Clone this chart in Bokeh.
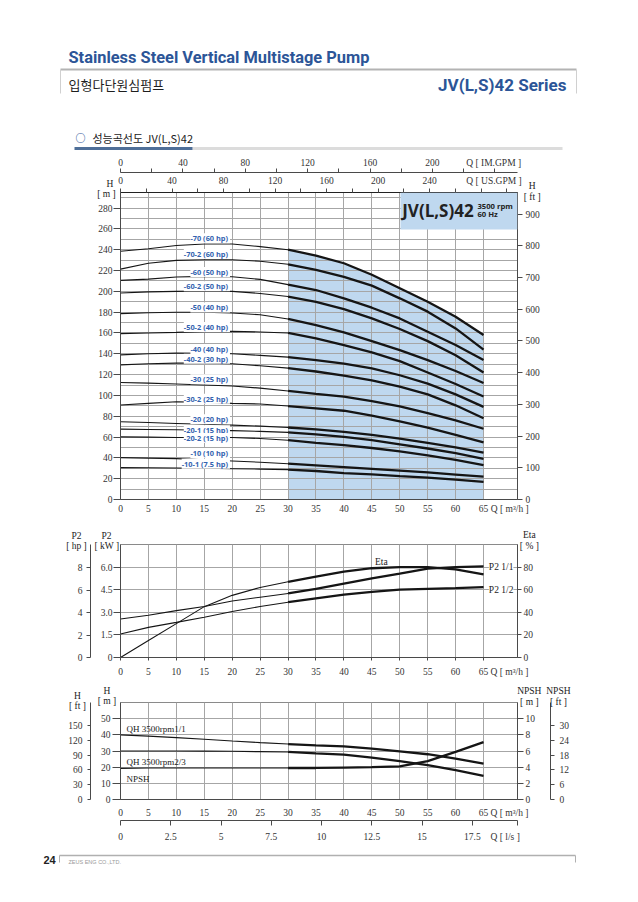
from bokeh.plotting import figure
from bokeh.models import (Range1d, LinearAxis, FixedTicker, Label, LabelSet,
                          ColumnDataSource, BoxAnnotation, CustomJSTickFormatter)
from bokeh.layouts import column
from bokeh.embed import file_html
from bokeh.resources import INLINE
from bokeh.core.properties import value

# ---------------- data ----------------
Q = [0, 5, 10, 15, 20, 25, 30, 35, 40, 45, 50, 55, 60, 65]

models = ["-70", "-70-2", "-60", "-60-2", "-50", "-50-2", "-40", "-40-2",
          "-30", "-30-2", "-20", "-20-1", "-20-2", "-10", "-10-1"]
motor_hp = ["60 hp", "60 hp", "50 hp", "50 hp", "40 hp", "40 hp", "40 hp", "30 hp",
            "25 hp", "25 hp", "20 hp", "15 hp", "15 hp", "10 hp", "7.5 hp"]

H_70   = [238.5, 241.0, 244.0, 245.5, 245.5, 243.0, 240.0, 234.4, 227.0, 216.0, 203.0, 190.0, 175.6, 158.0]
H_70_2 = [221.4, 227.0, 229.8, 230.4, 230.4, 229.0, 226.0, 220.6, 214.0, 205.5, 193.3, 180.5, 164.4, 144.0]
H_60   = [210.6, 211.8, 213.8, 214.4, 214.0, 211.5, 206.5, 201.3, 193.3, 184.3, 174.0, 161.2, 148.4, 134.0]
H_60_2 = [198.4, 199.5, 200.0, 200.3, 200.0, 198.0, 195.0, 190.0, 183.0, 174.0, 163.8, 152.2, 138.7, 122.0]
H_50   = [178.6, 179.5, 180.0, 180.0, 179.2, 177.5, 173.5, 167.6, 160.6, 152.2, 143.5, 133.9, 123.5, 112.0]
H_50_2 = [159.4, 160.0, 160.6, 161.3, 161.6, 161.0, 160.0, 154.8, 148.4, 141.3, 133.0, 122.0, 111.0, 99.0]
H_40   = [139.0, 140.0, 140.7, 140.5, 140.0, 138.5, 136.8, 133.9, 130.6, 125.9, 119.4, 111.4, 101.0, 89.0]
H_40_2 = [129.4, 130.5, 131.0, 131.0, 130.4, 128.5, 126.2, 123.0, 119.0, 114.5, 108.5, 101.0, 90.5, 78.0]
H_30   = [112.4, 111.8, 111.0, 110.0, 109.1, 107.0, 104.3, 101.4, 98.8, 94.5, 89.5, 83.0, 76.0, 68.0]
H_30_2 = [90.8, 92.4, 94.0, 93.4, 92.4, 91.8, 89.8, 87.6, 85.3, 80.5, 75.0, 69.0, 62.0, 55.0]
H_20   = [74.7, 74.0, 73.1, 72.3, 71.5, 70.5, 69.2, 67.3, 65.0, 62.0, 58.5, 54.5, 50.0, 45.0]
H_20_1 = [67.6, 67.3, 67.0, 66.6, 66.2, 65.5, 64.5, 62.5, 60.2, 57.0, 53.0, 49.0, 44.5, 39.0]
H_20_2 = [60.2, 59.9, 59.6, 59.6, 59.6, 58.6, 57.0, 54.4, 52.2, 49.5, 46.3, 42.5, 38.0, 33.0]
H_10   = [40.2, 39.8, 39.3, 38.2, 37.0, 35.8, 34.4, 32.8, 31.2, 29.5, 27.8, 26.0, 24.0, 22.0]
H_10_1 = [30.6, 30.5, 30.3, 30.0, 29.6, 29.2, 28.7, 27.4, 25.4, 24.2, 22.5, 21.0, 19.0, 17.0]
H_curves = [H_70, H_70_2, H_60, H_60_2, H_50, H_50_2, H_40, H_40_2,
            H_30, H_30_2, H_20, H_20_1, H_20_2, H_10, H_10_1]

# power / efficiency chart
P2_full_kW = [2.56, 2.80, 3.11, 3.38, 3.75, 4.00, 4.25, 4.55, 4.90, 5.25, 5.57, 5.90, 6.00, 6.05]
P2_half_kW = [1.56, 2.00, 2.33, 2.67, 3.05, 3.38, 3.67, 3.93, 4.18, 4.35, 4.50, 4.55, 4.60, 4.67]
Eta_pct    = [0.0, 15.0, 30.0, 45.0, 55.0, 62.0, 67.0, 71.5, 76.0, 79.0, 80.0, 80.0, 78.0, 73.5]

# single stage chart
QH_full = [40.0, 39.2, 38.3, 37.3, 36.2, 35.2, 34.3, 33.5, 32.8, 31.5, 29.8, 28.0, 25.3, 22.2]
QH_23   = [30.0, 30.0, 30.0, 29.9, 29.8, 29.6, 29.4, 28.5, 27.8, 25.9, 23.7, 21.2, 18.1, 14.6]
NPSH_m  = [3.85, 3.9, 3.9, 3.9, 3.9, 3.9, 3.9, 3.9, 3.95, 4.0, 4.1, 4.75, 5.9, 7.1]

Q_ticks = [0, 5, 10, 15, 20, 25, 30, 35, 40, 45, 50, 55, 60, 65]
H_ticks = [0, 20, 40, 60, 80, 100, 120, 140, 160, 180, 200, 220, 240, 260, 280]
ft_ticks = [0, 100, 200, 300, 400, 500, 600, 700, 800, 900]
usgpm_ticks = [0, 40, 80, 120, 160, 200, 240]
usgpm_all = [0, 20, 40, 60, 80, 100, 120, 140, 160, 180, 200, 220, 240, 260, 280, 300]
imgpm_ticks = [0, 40, 80, 120, 160, 200]
imgpm_all = [0, 20, 40, 60, 80, 100, 120, 140, 160, 180, 200, 220, 240]
kW_ticks = [0, 1.5, 3.0, 4.5, 6.0]
hp_ticks = [0, 2, 4, 6, 8]
eta_ticks = [0, 20, 40, 60, 80]
Hs_ticks = [0, 10, 20, 30, 40, 50]
Hs_ft_ticks = [0, 30, 60, 90, 120, 150]
npsh_ticks = [0, 2, 4, 6, 8, 10]
npsh_ft_ticks = [0, 6, 12, 18, 24, 30]
ls_ticks = [0, 2.5, 5, 7.5, 10, 12.5, 15, 17.5]

# ---------------- style ----------------
SERIF = "Liberation Serif"
TFS = "9.5px"
GRID = "#a6a6a6"
AXIS = "#4a4a4a"
CURVE = "#151515"
BLUE_FILL = "#bfd8ef"
TITLE_BLUE = "#2c5597"
LABEL_BLUE = "#3363b0"
Q_END = 71.08
THIN, THICK = 1.1, 2.3


def style_axis(ax, tick_out=0, standoff=3, minor_out=0):
    ax.major_label_text_font = SERIF
    ax.major_label_text_font_size = TFS
    ax.major_label_text_color = "#333333"
    ax.major_tick_out = tick_out
    ax.major_tick_in = 0
    ax.minor_tick_out = minor_out
    ax.minor_tick_in = 0
    ax.major_tick_line_color = AXIS
    ax.minor_tick_line_color = AXIS
    ax.axis_line_color = AXIS
    ax.major_label_standoff = standoff


def pad(ax, px):
    ax.axis_label = " "
    ax.axis_label_text_font_size = "1px"
    ax.axis_label_standoff = px


def lbl(p, x, y, text, size=TFS, font=SERIF, align="left", color="#222222",
        style="normal", bg=None):
    l = Label(x=x, y=y, text=text, text_font=font, text_font_size=size,
              text_align=align, text_baseline="middle", text_color=color,
              text_font_style=style)
    if bg is not None:
        l.background_fill_color = bg
    p.add_layout(l)


def gtxt(p, x, y, text, size=TFS, font=SERIF, align="left", color="#222222",
         style="normal"):
    # text glyph on the overlay level: not clipped to the plot frame
    p.text(x=[x], y=[y], text=[text], text_font=value(font), text_font_size=value(size),
           text_align=align, text_baseline="middle", text_color=color,
           text_font_style=style, level="overlay")


def make_chart(height, top_b, bottom_b, y_end):
    p = figure(width=638, height=height, x_range=Range1d(0, Q_END),
               y_range=Range1d(0, y_end), output_backend="svg",
               toolbar_location=None, min_border_left=120, min_border_right=121,
               min_border_top=top_b, min_border_bottom=bottom_b)
    p.outline_line_color = "#8a8a8a"
    p.xgrid.grid_line_color = GRID
    p.ygrid.grid_line_color = GRID
    p.xgrid.ticker = FixedTicker(ticks=Q_ticks)
    return p


def q_axis(p, label_at, minor_out, standoff):
    ax = p.xaxis[0]
    ax.ticker = FixedTicker(ticks=Q_ticks + [label_at], minor_ticks=Q_ticks)
    ax.formatter = CustomJSTickFormatter(
        code="return tick > 66 ? 'Q [ m\u00b3/h ]' : String(tick);")
    style_axis(ax, tick_out=0, standoff=standoff, minor_out=minor_out)
    return ax


def split_line(p, xs, ys, **kw):
    a = [(x, y) for x, y in zip(xs, ys) if x <= 30]
    b = [(x, y) for x, y in zip(xs, ys) if x >= 30]
    p.line([t[0] for t in a], [t[1] for t in a], line_width=THIN, line_color=CURVE, **kw)
    p.line([t[0] for t in b], [t[1] for t in b], line_width=THICK, line_color=CURVE, **kw)


def page_fig(height, y_top, y_bottom):
    f = figure(width=638, height=height, x_range=Range1d(120, 517),
               y_range=Range1d(y_bottom, y_top), x_axis_type=None, y_axis_type=None,
               output_backend="svg", toolbar_location=None,
               min_border_left=120, min_border_right=121, min_border_top=0,
               min_border_bottom=0)
    f.outline_line_color = None
    f.xgrid.visible = False
    f.ygrid.visible = False
    return f


# ---------------- header ----------------
hdr = page_fig(150, 0, 150)
gtxt(hdr, 68, 57, "Stainless Steel Vertical Multistage Pump",
     size="16.4px", font="Roboto", style="bold", color=TITLE_BLUE)
hdr.segment(x0=[60], y0=[69], x1=[576], y1=[69], line_color="#b3b3b3", line_width=2, level="overlay")
hdr.segment(x0=[60, 576], y0=[69, 69], x1=[60, 576], y1=[93, 93], line_color="#d0d0d0",
            line_width=1, level="overlay")
gtxt(hdr, 68, 84, "입형다단원심펌프", size="13px", font="Noto Sans CJK KR", color="#1e1e1e")
gtxt(hdr, 566, 84, "JV(L,S)42 Series", size="17px", font="Roboto", style="bold",
     color=TITLE_BLUE, align="right")
gtxt(hdr, 80, 137, "○", size="10px", font="Noto Sans CJK KR", style="bold",
     color=TITLE_BLUE, align="center")
gtxt(hdr, 92, 137, "성능곡선도 JV(L,S)42", size="11px", font="Noto Sans CJK KR")
hdr.segment(x0=[192], y0=[148], x1=[562], y1=[148], line_color="#dcdcdc", line_width=3, level="overlay")
hdr.segment(x0=[74], y0=[148], x1=[192], y1=[148], line_color="#4f6f98", line_width=3, level="overlay")

# ---------------- top chart: H-Q curves ----------------
top = make_chart(370, 42, 21, 295)
q_axis(top, 69.7, 0, 4)
yt = FixedTicker(ticks=H_ticks, minor_ticks=[h + 10 for h in H_ticks])
top.yaxis.ticker = yt
top.ygrid.ticker = yt
top.ygrid.minor_grid_line_color = GRID
style_axis(top.yaxis[0], tick_out=7, standoff=1)

top.extra_y_ranges = {"ft": Range1d(0, 295 * 3.28084)}
ax_ft = LinearAxis(y_range_name="ft", ticker=FixedTicker(ticks=ft_ticks))
style_axis(ax_ft, tick_out=5, standoff=3)
top.add_layout(ax_ft, "right")

top.extra_x_ranges = {"us": Range1d(0, 308.3), "im": Range1d(0, 254.5)}
ax_us = LinearAxis(x_range_name="us",
                   ticker=FixedTicker(ticks=usgpm_ticks + [291], minor_ticks=usgpm_all),
                   formatter=CustomJSTickFormatter(
                       code="return tick > 250 ? 'Q  [ US.GPM ]' : String(tick);"))
style_axis(ax_us, tick_out=0, standoff=3, minor_out=4)
ax_us.axis_line_color = "#222222"
top.add_layout(ax_us, "above")
ax_im = LinearAxis(x_range_name="im",
                   ticker=FixedTicker(ticks=imgpm_ticks + [240], minor_ticks=imgpm_all),
                   formatter=CustomJSTickFormatter(
                       code="return tick > 220 ? 'Q  [ IM.GPM ]' : String(tick);"))
style_axis(ax_im, tick_out=0, standoff=1, minor_out=4)
top.add_layout(ax_im, "above")

qa = [q for q in Q if q >= 30]
ha = [h for q, h in zip(Q, H_70) if q >= 30]
top.varea(x=qa, y1=0, y2=ha, fill_color=BLUE_FILL, level="image")

for h in H_curves:
    split_line(top, Q, h)

label_dy = [5.5, 5.4, 4.2, 4.5, 4.6, 4.5, 4.1, 4.2, 5.6, 3.5, 4.7, 0.0, -0.4, 6.4, 4.4]
lab_src = ColumnDataSource(dict(
    x=[19.6 for _ in models],
    y=[h[3] + d for h, d in zip(H_curves, label_dy)],
    text=[f"{m}  ({hp})" for m, hp in zip(models, motor_hp)]))
top.add_layout(LabelSet(x="x", y="y", text="text", source=lab_src,
                        text_font=value("Open Sans"), text_font_size="7.4px",
                        text_font_style="bold", text_color=LABEL_BLUE,
                        text_align="right", text_baseline="middle",
                        background_fill_color="white"))

top.add_layout(BoxAnnotation(left=50.13, bottom=259.4, fill_color=BLUE_FILL,
                             fill_alpha=1.0, line_alpha=0))
lbl(top, 50.44, 277.7, "JV(L,S)42", size="17px", font="Open Sans", style="bold")
lbl(top, 63.9, 282.5, "3500 rpm", size="7.7px", font="Open Sans", style="bold")
lbl(top, 63.9, 273.9, "60 Hz", size="7.7px", font="Open Sans", style="bold")

gtxt(top, -1.88, 303.6, "H", align="center")
gtxt(top, -2.5, 294.0, "[ m ]", align="center")
gtxt(top, 73.7, 301.0, "H", align="center")
gtxt(top, 73.7, 290.5, "[ ft ]", align="center")

# ---------------- middle chart: P2 / Eta ----------------
mid = make_chart(160, 24, 23, 7.5)
q_axis(mid, 69.65, 3, 6)
kt = FixedTicker(ticks=kW_ticks)
mid.yaxis.ticker = kt
mid.ygrid.ticker = kt
mid.yaxis.formatter = CustomJSTickFormatter(code="return tick == 0 ? '0' : tick.toFixed(1);")
style_axis(mid.yaxis[0], tick_out=7, standoff=1)
pad(mid.yaxis[0], 3)
mid.extra_y_ranges = {"hp": Range1d(0, 7.5 / 0.7457), "eta": Range1d(0, 100)}
ax_hp = LinearAxis(y_range_name="hp", ticker=FixedTicker(ticks=hp_ticks))
style_axis(ax_hp, tick_out=4, standoff=4)
mid.add_layout(ax_hp, "left")
ax_eta = LinearAxis(y_range_name="eta", ticker=FixedTicker(ticks=eta_ticks))
style_axis(ax_eta, tick_out=4, standoff=2)
mid.add_layout(ax_eta, "right")

split_line(mid, Q, P2_full_kW)
split_line(mid, Q, P2_half_kW)
split_line(mid, Q, Eta_pct, y_range_name="eta")

lbl(mid, 46.7, 6.37, "Eta", align="center")
lbl(mid, 65.95, 6.0, "P2 1/1", bg="white")
lbl(mid, 65.95, 4.51, "P2 1/2", bg="white")
gtxt(mid, -7.88, 8.05, "P2", align="center")
gtxt(mid, -7.88, 7.43, "[ hp ]", align="center")
gtxt(mid, -2.5, 8.05, "P2", align="center")
gtxt(mid, -2.45, 7.43, "[ kW ]", align="center")
gtxt(mid, 73.2, 8.1, "Eta", align="center")
gtxt(mid, 73.2, 7.43, "[ % ]", align="center")

# ---------------- bottom chart: single stage ----------------
bot = make_chart(165, 22, 46, 60)
q_axis(bot, 69.65, 0, 8)
ht = FixedTicker(ticks=Hs_ticks)
bot.yaxis.ticker = ht
bot.ygrid.ticker = ht
style_axis(bot.yaxis[0], tick_out=8, standoff=2)
pad(bot.yaxis[0], 3)
bot.extra_y_ranges = {"ft": Range1d(0, 60 * 3.28084), "npsh": Range1d(0, 12),
                      "npsh_ft": Range1d(0, 12 * 3.28084)}
bot.extra_x_ranges = {"ls": Range1d(0, Q_END / 3.6)}
ax_hft = LinearAxis(y_range_name="ft", ticker=FixedTicker(ticks=Hs_ft_ticks))
style_axis(ax_hft, tick_out=3, standoff=5)
bot.add_layout(ax_hft, "left")
ax_np = LinearAxis(y_range_name="npsh", ticker=FixedTicker(ticks=npsh_ticks))
style_axis(ax_np, tick_out=6, standoff=2)
pad(ax_np, 8)
bot.add_layout(ax_np, "right")
ax_npft = LinearAxis(y_range_name="npsh_ft", ticker=FixedTicker(ticks=npsh_ft_ticks))
style_axis(ax_npft, tick_out=4, standoff=5)
bot.add_layout(ax_npft, "right")
ax_ls = LinearAxis(x_range_name="ls",
                   ticker=FixedTicker(ticks=ls_ticks + [19.13], minor_ticks=ls_ticks + [19.72]),
                   formatter=CustomJSTickFormatter(
                       code="return tick > 18 ? 'Q [ l/s ]' : String(tick);"))
style_axis(ax_ls, tick_out=0, standoff=6, minor_out=5)
bot.add_layout(ax_ls, "below")

split_line(bot, Q, QH_full)
split_line(bot, Q, QH_23)
split_line(bot, Q, NPSH_m, y_range_name="npsh")

lbl(bot, 1.07, 43.7, "QH 3500rpm1/1", size="9px")
lbl(bot, 1.07, 23.5, "QH 3500rpm2/3", size="9px")
lbl(bot, 1.07, 12.4, "NPSH", size="9px")
gtxt(bot, -7.7, 64.3, "H", align="center")
gtxt(bot, -7.7, 58.1, "[ ft ]", align="center")
gtxt(bot, -2.42, 67.4, "H", align="center")
gtxt(bot, -2.42, 61.2, "[ m ]", align="center")
gtxt(bot, 73.2, 67.4, "NPSH", align="center")
gtxt(bot, 73.2, 60.2, "[ m ]", align="center")
gtxt(bot, 78.4, 67.4, "NPSH", align="center")
gtxt(bot, 78.4, 60.2, "[ ft ]", align="center")

# ---------------- footer ----------------
ftr = page_fig(57, 845, 902)
gtxt(ftr, 43, 859, "24", size="11px", font="Liberation Sans", style="bold")
ftr.segment(x0=[59], y0=[855], x1=[575], y1=[855], line_color="#b0b0b0", line_width=1.5,
            level="overlay")
ftr.segment(x0=[59, 575], y0=[855, 855], x1=[59, 575], y1=[862, 862], line_color="#b0b0b0",
            line_width=1, level="overlay")
gtxt(ftr, 68, 861, "ZEUS ENG CO.,LTD.", size="5.5px", font="Liberation Sans", color="#9a9a9a")

layout = column(hdr, top, mid, bot, ftr, spacing=0)
open("out.html", "w").write(file_html(layout, INLINE))
